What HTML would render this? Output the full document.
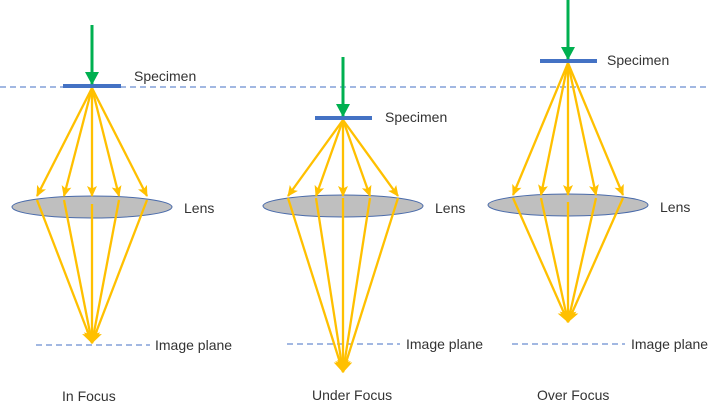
<!DOCTYPE html>
<html><head><meta charset="utf-8"><style>
html,body{margin:0;padding:0;background:#fff;}
svg{display:block;}
text{font-family:"Liberation Sans",sans-serif;font-size:14px;fill:#333;}
</style></head><body>
<svg width="720" height="414" viewBox="0 0 720 414" xmlns="http://www.w3.org/2000/svg">
<defs>
<marker id="y" markerUnits="userSpaceOnUse" markerWidth="12" markerHeight="12" refX="10" refY="6" orient="auto"><path d="M0,1 L11,6 L0,11 L2.5,6 Z" fill="#FFC000"/></marker>
<marker id="yb" markerUnits="userSpaceOnUse" markerWidth="14" markerHeight="14" refX="12" refY="7" orient="auto"><path d="M0,1 L13,7 L0,13 L3,7 Z" fill="#FFC000"/></marker>
<marker id="g" markerUnits="userSpaceOnUse" markerWidth="14" markerHeight="14" refX="12" refY="7" orient="auto"><path d="M0,0 L13,7 L0,14 Z" fill="#00B050"/></marker>
</defs>
<line x1="0" y1="87" x2="706" y2="87" stroke="#4472C4" stroke-width="1" stroke-dasharray="6,4"/>
<g stroke="#4472C4" stroke-width="1" stroke-dasharray="6,4">
<line x1="36" y1="345" x2="150" y2="345"/>
<line x1="287" y1="344" x2="400" y2="344"/>
<line x1="512" y1="344" x2="625" y2="344"/>
</g>
<g fill="#BFBFBF" stroke="#4A6BAA" stroke-width="1">
<ellipse cx="92" cy="207" rx="80" ry="11"/>
<ellipse cx="343" cy="206" rx="80" ry="11"/>
<ellipse cx="568" cy="205" rx="80" ry="11"/>
</g>
<g stroke="#FFC000" stroke-width="2.3" fill="none">
<line x1="92" y1="88" x2="37" y2="196" marker-end="url(#y)"/>
<line x1="92" y1="88" x2="64" y2="196" marker-end="url(#y)"/>
<line x1="92" y1="88" x2="92" y2="196" marker-end="url(#y)"/>
<line x1="92" y1="88" x2="119" y2="196" marker-end="url(#y)"/>
<line x1="92" y1="88" x2="147" y2="196" marker-end="url(#y)"/>
<line x1="37" y1="200" x2="92" y2="343" marker-end="url(#yb)"/>
<line x1="64" y1="200" x2="92" y2="343" marker-end="url(#yb)"/>
<line x1="92" y1="204" x2="92" y2="343" marker-end="url(#yb)"/>
<line x1="119" y1="200" x2="92" y2="343" marker-end="url(#yb)"/>
<line x1="147" y1="200" x2="92" y2="343" marker-end="url(#yb)"/>
<line x1="343" y1="120" x2="288" y2="196" marker-end="url(#y)"/>
<line x1="343" y1="120" x2="316" y2="196" marker-end="url(#y)"/>
<line x1="343" y1="120" x2="343" y2="196" marker-end="url(#y)"/>
<line x1="343" y1="120" x2="370" y2="196" marker-end="url(#y)"/>
<line x1="343" y1="120" x2="398" y2="196" marker-end="url(#y)"/>
<line x1="288" y1="198" x2="343" y2="372" marker-end="url(#yb)"/>
<line x1="316" y1="198" x2="343" y2="372" marker-end="url(#yb)"/>
<line x1="343" y1="198" x2="343" y2="372" marker-end="url(#yb)"/>
<line x1="370" y1="198" x2="343" y2="372" marker-end="url(#yb)"/>
<line x1="398" y1="198" x2="343" y2="372" marker-end="url(#yb)"/>
<line x1="568" y1="63" x2="513" y2="195" marker-end="url(#y)"/>
<line x1="568" y1="63" x2="541" y2="195" marker-end="url(#y)"/>
<line x1="568" y1="63" x2="568" y2="195" marker-end="url(#y)"/>
<line x1="568" y1="63" x2="596" y2="195" marker-end="url(#y)"/>
<line x1="568" y1="63" x2="623" y2="195" marker-end="url(#y)"/>
<line x1="513" y1="198" x2="568" y2="322" marker-end="url(#yb)"/>
<line x1="541" y1="198" x2="568" y2="322" marker-end="url(#yb)"/>
<line x1="568" y1="202" x2="568" y2="322" marker-end="url(#yb)"/>
<line x1="596" y1="198" x2="568" y2="322" marker-end="url(#yb)"/>
<line x1="623" y1="198" x2="568" y2="322" marker-end="url(#yb)"/>
</g>
<g fill="#4472C4">
<rect x="63" y="84" width="58" height="4"/>
<rect x="315" y="116" width="57" height="4"/>
<rect x="540" y="59" width="57" height="4"/>
</g>
<g stroke="#00B050" stroke-width="3">
<line x1="92" y1="25" x2="92" y2="84" marker-end="url(#g)"/>
<line x1="343" y1="57" x2="343" y2="116" marker-end="url(#g)"/>
<line x1="568" y1="0" x2="568" y2="59" marker-end="url(#g)"/>
</g>
<text x="134" y="81">Specimen</text>
<text x="184" y="213">Lens</text>
<text x="155" y="350">Image plane</text>
<text x="62" y="401">In Focus</text>
<text x="385" y="122">Specimen</text>
<text x="435" y="213">Lens</text>
<text x="406" y="349">Image plane</text>
<text x="312" y="400">Under Focus</text>
<text x="607" y="65">Specimen</text>
<text x="660" y="212">Lens</text>
<text x="631" y="349">Image plane</text>
<text x="537" y="400">Over Focus</text>
</svg>
</body></html>
